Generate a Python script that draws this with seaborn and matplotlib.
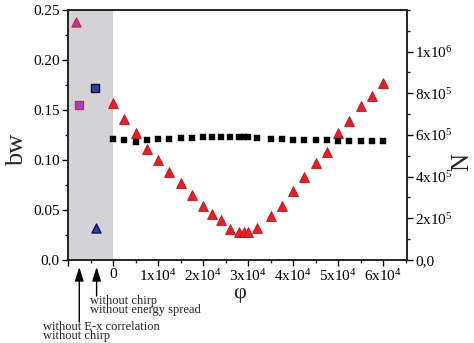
import numpy as np
import pandas as pd
import seaborn as sns
import matplotlib.pyplot as plt
import matplotlib.transforms as mtransforms
from matplotlib.ticker import MultipleLocator, FixedLocator, FuncFormatter

sns.set_theme(style="ticks")
plt.rcParams['font.family'] = ['Liberation Serif', 'DejaVu Serif']
plt.rcParams['mathtext.fontset'] = 'custom'
plt.rcParams['mathtext.rm'] = 'Liberation Serif'
plt.rcParams['mathtext.it'] = 'Liberation Serif:italic'

# phase values (same for both series)
phi = [0, 2500, 5000, 7500, 10000, 12500, 15000, 17500, 20000, 22000, 24000,
       26000, 28000, 29000, 30000, 32000, 35000, 37500, 40000, 42500, 45000,
       47500, 50000, 52500, 55000, 57500, 60000]
bw = [0.157, 0.141, 0.127, 0.111, 0.100, 0.088, 0.077, 0.065, 0.054, 0.046,
      0.040, 0.031, 0.028, 0.028, 0.028, 0.032, 0.044, 0.054, 0.069, 0.083,
      0.097, 0.108, 0.127, 0.139, 0.154, 0.164, 0.177]
n_part = [580e3, 575e3, 567e3, 575e3, 580e3, 580e3, 585e3, 585e3, 588e3, 588e3,
          591e3, 591e3, 591e3, 591e3, 591e3, 585e3, 580e3, 580e3, 578e3, 578e3,
          578e3, 575e3, 572e3, 572e3, 569e3, 569e3, 569e3]

# special cases in the shaded region
spec_phi = [-8200, -7600, -4000, -3850]
spec_bw = [0.238, 0.155, 0.172, 0.032]
spec_marker = ['^', 's', 's', '^']
spec_face = ['#a040c8', '#a040c8', '#2b3fa8', '#3040b0']
spec_edge = ['#e8202a', '#e8202a', '#101030', '#101050']

df = pd.DataFrame({'phi': phi, 'bw': bw, 'N': n_part})

fig = plt.figure(figsize=(4.74, 3.43), dpi=100)
ax = fig.add_axes([0.1435, 0.242, 0.715, 0.729])
ax2 = ax.twinx()

ax.axvspan(-10000, 0, color='#d3d3d5', lw=0, zorder=0)

sns.scatterplot(data=df, x='phi', y='bw', marker='^', s=50, color='#ee1c24',
                edgecolor='#c01018', linewidth=0.6, ax=ax, zorder=3)
for p, b, m, fc, ec in zip(spec_phi, spec_bw, spec_marker, spec_face, spec_edge):
    ax.scatter(p, b, marker=m, s=42 if m == '^' else 30, facecolor=fc,
               edgecolor=ec, linewidth=1.0, zorder=3)

sns.scatterplot(data=df, x='phi', y='N', marker='s', s=18, color='black',
                edgecolor='black', linewidth=0.3, ax=ax2, zorder=3)

ax.set_xlim(-10000, 65300)
ax.set_ylim(0, 0.25)
ax2.set_ylim(0, 1.2e6)

ax.xaxis.set_major_locator(FixedLocator([-10000, 0, 10000, 20000, 30000, 40000, 50000, 60000]))
ax.xaxis.set_minor_locator(MultipleLocator(5000))
ax.xaxis.set_major_formatter(FuncFormatter(
    lambda v, p: '' if v < 0 else ('0' if v == 0 else '%dx10$^{4}$' % round(v / 1e4))))
ax.yaxis.set_major_locator(MultipleLocator(0.05))
ax.yaxis.set_minor_locator(MultipleLocator(0.025))
ax.yaxis.set_major_formatter(FuncFormatter(lambda v, p: '0.0' if v == 0 else '%.2f' % v))

ax2.yaxis.set_major_locator(FixedLocator([0, 2e5, 4e5, 6e5, 8e5, 1e6]))
ax2.yaxis.set_minor_locator(MultipleLocator(1e5))


def n_fmt(v, p):
    if v == 0:
        return '0,0'
    if v >= 1e6:
        return '%dx10$^{6}$' % round(v / 1e6)
    return '%dx10$^{5}$' % round(v / 1e5)


ax2.yaxis.set_major_formatter(FuncFormatter(n_fmt))

for a in (ax, ax2):
    a.tick_params(which='major', direction='out', length=4, width=1, labelsize=11,
                  pad=2, colors='black')
    a.tick_params(which='minor', direction='out', length=2.5, width=1)
    for s in a.spines.values():
        s.set_linewidth(1.2)
        s.set_color('#222222')

ax.set_xlabel('')
ax.set_ylabel('')
ax2.set_ylabel('')
ax.text(-0.15, 0.44, 'bw', transform=ax.transAxes, fontsize=19, rotation=90,
        ha='center', va='center')
ax.text(1.162, 0.39, 'N', transform=ax.transAxes, fontsize=18, rotation=90,
        ha='center', va='center')
ax.text(0.507, -0.135, 'φ', transform=ax.transAxes, fontsize=16,
        ha='center', va='center')

trans = mtransforms.blended_transform_factory(ax.transData, ax.transAxes)
arrow_kw = dict(arrowstyle='-|>,head_width=0.22,head_length=0.7', color='black',
                lw=1.0, shrinkA=0, shrinkB=0)
ax.annotate('', xy=(-7500, -0.028), xytext=(-7500, -0.248), xycoords=trans,
            textcoords=trans, arrowprops=arrow_kw, annotation_clip=False)
ax.annotate('', xy=(-3650, -0.028), xytext=(-3650, -0.144), xycoords=trans,
            textcoords=trans, arrowprops=arrow_kw, annotation_clip=False)
ax.text(-5100, -0.140, 'without chirp\nwithout energy spread', transform=trans,
        fontsize=9, va='top', ha='left', linespacing=0.72)
ax.text(-15600, -0.242, 'without E-x correlation\nwithout chirp', transform=trans,
        fontsize=9, va='top', ha='left', linespacing=0.72)

fig.savefig('out.png', dpi=100)
